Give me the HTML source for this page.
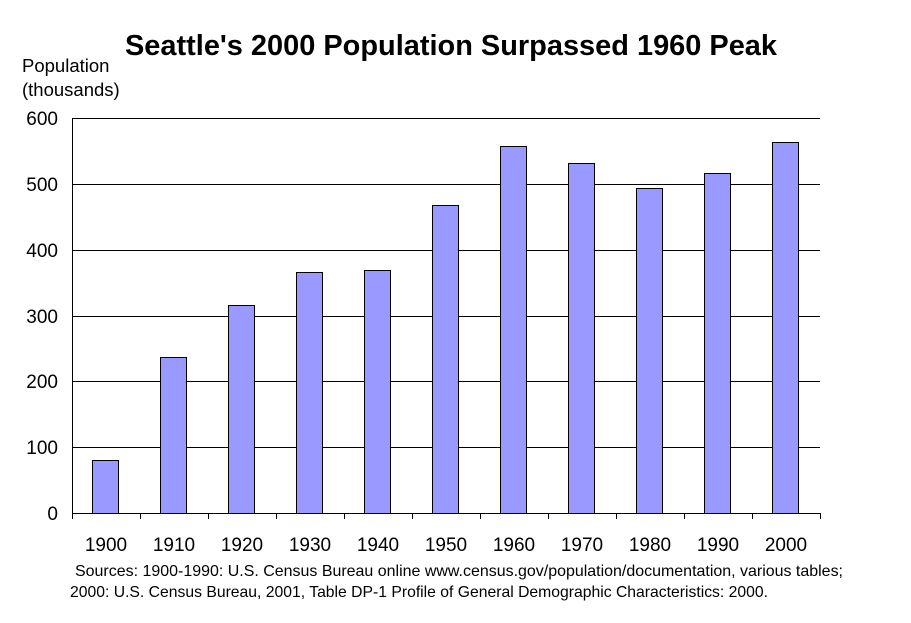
<!DOCTYPE html>
<html><head><style>
body{margin:0;background:#fff;}
svg{display:block;font-family:"Liberation Sans",Arial,sans-serif;}
</style></head><body>
<svg width="911" height="623" viewBox="0 0 911 623">
<rect width="911" height="623" fill="#fff"/>
<text x="451" y="55" text-anchor="middle" font-size="29" font-weight="bold" textLength="652" lengthAdjust="spacingAndGlyphs">Seattle's 2000 Population Surpassed 1960 Peak</text>
<text x="22" y="72" font-size="18.5">Population</text>
<text x="22" y="96" font-size="18.5">(thousands)</text>
<g stroke="#000" stroke-width="1">
<line x1="72.5" y1="118.5" x2="820" y2="118.5"/>
<line x1="72.5" y1="184.5" x2="820" y2="184.5"/>
<line x1="72.5" y1="250.5" x2="820" y2="250.5"/>
<line x1="72.5" y1="316.5" x2="820" y2="316.5"/>
<line x1="72.5" y1="381.5" x2="820" y2="381.5"/>
<line x1="72.5" y1="447.5" x2="820" y2="447.5"/>
</g>
<g font-size="19" text-anchor="end">
<text x="58" y="125">600</text><text x="58" y="191">500</text><text x="58" y="257">400</text>
<text x="58" y="323">300</text><text x="58" y="388">200</text><text x="58" y="454">100</text><text x="58" y="520">0</text>
</g>
<g fill="#9999ff" stroke="#000" stroke-width="1">
<rect x="92.5" y="460.5" width="26" height="53"/>
<rect x="160.5" y="357.5" width="26" height="156"/>
<rect x="228.5" y="305.5" width="26" height="208"/>
<rect x="296.5" y="272.5" width="26" height="241"/>
<rect x="364.5" y="270.5" width="26" height="243"/>
<rect x="432.5" y="205.5" width="26" height="308"/>
<rect x="500.5" y="146.5" width="26" height="367"/>
<rect x="568.5" y="163.5" width="26" height="350"/>
<rect x="636.5" y="188.5" width="26" height="325"/>
<rect x="704.5" y="173.5" width="26" height="340"/>
<rect x="772.5" y="142.5" width="26" height="371"/>
</g>
<g stroke="#000" stroke-width="1">
<line x1="72.5" y1="118" x2="72.5" y2="519"/>
<line x1="72" y1="513.5" x2="820" y2="513.5"/>
<line x1="140.5" y1="513" x2="140.5" y2="519"/>
<line x1="208.5" y1="513" x2="208.5" y2="519"/>
<line x1="276.5" y1="513" x2="276.5" y2="519"/>
<line x1="344.5" y1="513" x2="344.5" y2="519"/>
<line x1="412.5" y1="513" x2="412.5" y2="519"/>
<line x1="480.5" y1="513" x2="480.5" y2="519"/>
<line x1="548.5" y1="513" x2="548.5" y2="519"/>
<line x1="616.5" y1="513" x2="616.5" y2="519"/>
<line x1="684.5" y1="513" x2="684.5" y2="519"/>
<line x1="752.5" y1="513" x2="752.5" y2="519"/>
<line x1="820.5" y1="513" x2="820.5" y2="519"/>
</g>
<g font-size="19" text-anchor="middle">
<text x="106" y="551">1900</text><text x="174" y="551">1910</text><text x="242" y="551">1920</text>
<text x="310" y="551">1930</text><text x="378" y="551">1940</text><text x="446" y="551">1950</text>
<text x="514" y="551">1960</text><text x="582" y="551">1970</text><text x="650" y="551">1980</text>
<text x="718" y="551">1990</text><text x="786" y="551">2000</text>
</g>
<text x="75" y="576" font-size="16" textLength="768" lengthAdjust="spacingAndGlyphs">Sources: 1900-1990: U.S. Census Bureau online www.census.gov/population/documentation, various tables;</text>
<text x="70" y="597" font-size="16" textLength="698" lengthAdjust="spacingAndGlyphs">2000: U.S. Census Bureau, 2001, Table DP-1 Profile of General Demographic Characteristics: 2000.</text>
</svg>
</body></html>
